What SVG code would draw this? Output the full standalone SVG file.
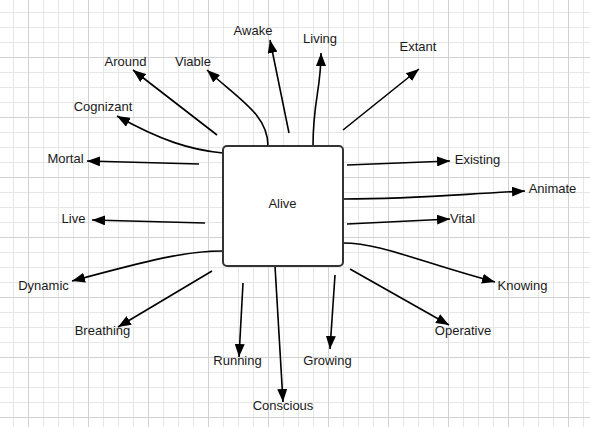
<svg xmlns="http://www.w3.org/2000/svg" width="590" height="427" viewBox="0 0 590 427">
<defs>
<pattern id="minor" width="15" height="15" patternUnits="userSpaceOnUse" x="13" y="12">
<path d="M0,0.5H15M0.5,0V15" fill="none" stroke="#e6e6e6" stroke-width="1"/>
</pattern>
<pattern id="major" width="60" height="60" patternUnits="userSpaceOnUse" x="28" y="57">
<path d="M0,0.5H60M0.5,0V60" fill="none" stroke="#d2d2d2" stroke-width="1"/>
</pattern>
<marker id="ah" viewBox="0 0 13 10" refX="13" refY="5" markerWidth="13" markerHeight="10" markerUnits="userSpaceOnUse" orient="auto">
<path d="M0,0L13,5L0,10Z" fill="#000"/>
</marker>
<style>
.c{fill:none;stroke:#000;stroke-width:1.6;marker-end:url(#ah)}
text{font-family:"Liberation Sans",Arial,sans-serif;font-size:13px;fill:#1a1a1a;text-anchor:middle}
</style>
</defs>
<rect width="590" height="427" fill="#fff"/>
<rect width="590" height="427" fill="url(#minor)"/>
<rect width="590" height="427" fill="url(#major)"/>
<g id="connectors">
<path class="c" d="M217,135L133,70"/>
<path class="c" d="M223,153C190,150 160,140 117,116"/>
<path class="c" d="M268,146C268,115 240,100 207,70"/>
<path class="c" d="M289,133L270,40"/>
<path class="c" d="M313,146C313,100 321,90 321,53"/>
<path class="c" d="M343,130L419,69"/>
<path class="c" d="M199,164L87,161"/>
<path class="c" d="M205,223L92,220"/>
<path class="c" d="M223,251C185,251 150,260 72,281"/>
<path class="c" d="M212,271L118,327"/>
<path class="c" d="M243,283L239,357"/>
<path class="c" d="M275,266L283,402"/>
<path class="c" d="M335,275L330,349"/>
<path class="c" d="M350,269L449,325"/>
<path class="c" d="M343,243C380,243 420,262 495,282"/>
<path class="c" d="M347,165L450,161"/>
<path class="c" d="M343,199C420,199 460,194 525,191"/>
<path class="c" d="M347,224L450,219"/>
</g>
<g id="alive">
<rect x="223" y="146" width="120" height="120" rx="4" fill="#fff" stroke="#333" stroke-width="2"/>
<text x="282.5" y="208">Alive</text>
</g>
<g id="around"><text x="125.5" y="66">Around</text></g>
<g id="cognizant"><text x="103" y="111">Cognizant</text></g>
<g id="viable"><text x="193" y="66">Viable</text></g>
<g id="awake"><text x="253" y="35">Awake</text></g>
<g id="living"><text x="320" y="43">Living</text></g>
<g id="extant"><text x="418" y="51">Extant</text></g>
<g id="mortal"><text x="65.5" y="163">Mortal</text></g>
<g id="live"><text x="73.5" y="223">Live</text></g>
<g id="dynamic"><text x="43.5" y="290">Dynamic</text></g>
<g id="breathing"><text x="102.5" y="335">Breathing</text></g>
<g id="running"><text x="237.5" y="365">Running</text></g>
<g id="conscious"><text x="283" y="410">Conscious</text></g>
<g id="growing"><text x="327.5" y="365">Growing</text></g>
<g id="operative"><text x="463" y="335">Operative</text></g>
<g id="knowing"><text x="522.5" y="290">Knowing</text></g>
<g id="existing"><text x="477.5" y="164">Existing</text></g>
<g id="animate"><text x="552.5" y="193">Animate</text></g>
<g id="vital"><text x="462.5" y="223">Vital</text></g>
</svg>
